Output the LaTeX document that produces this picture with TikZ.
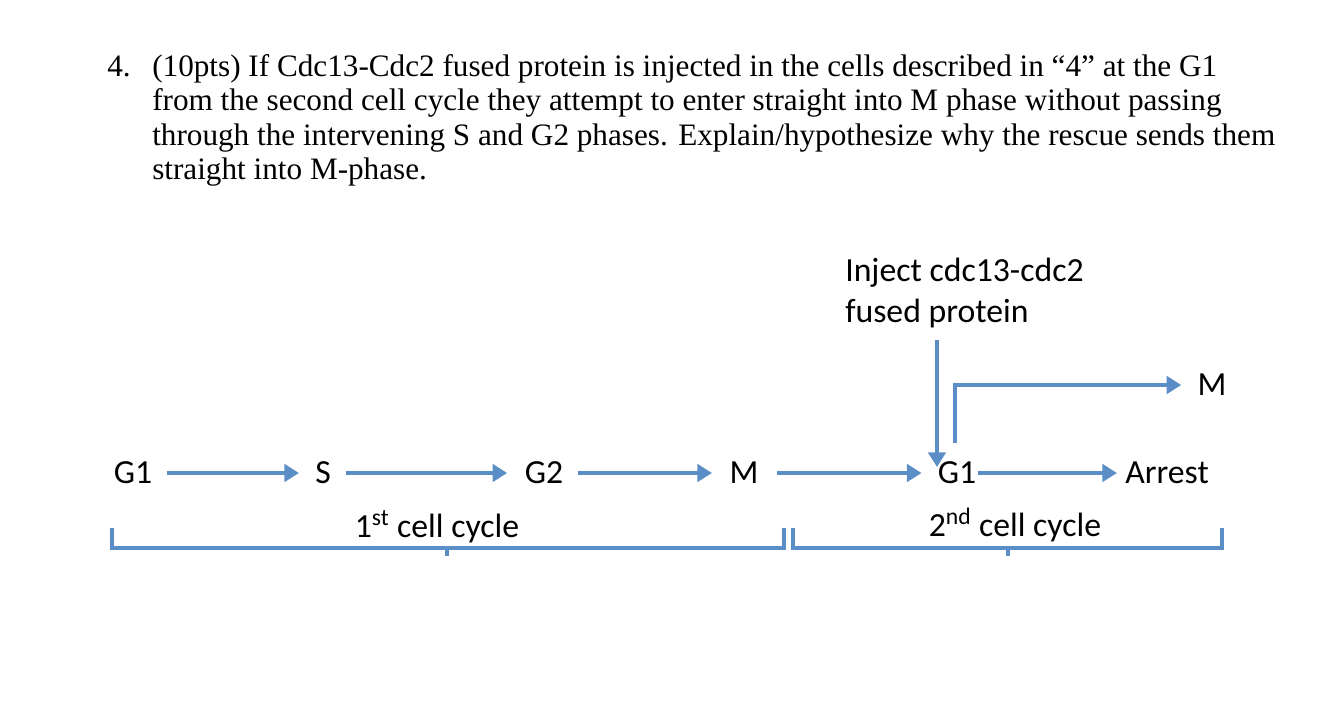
\documentclass[tikz,border=0pt]{standalone}
\usepackage{fontspec}
\setmainfont{Liberation Serif}
\newfontfamily\diag{Carlito}
\usetikzlibrary{arrows.meta}
\definecolor{cblue}{HTML}{5B8EC6}
\begin{document}
\begin{tikzpicture}[x=0.75pt,y=-0.75pt,
  flow/.style={draw=cblue,line width=3pt,-{Triangle[length=11pt,width=13pt]}},
  brk/.style={draw=cblue,line width=2.6pt},
  lab/.style={font=\diag\fontsize{25.3}{30.75}\selectfont,inner sep=0pt},
  qtext/.style={font=\fontsize{23.4}{25.5}\selectfont,inner sep=0pt,anchor=base west}]
\useasboundingbox[fill=white] (0,0) rectangle (1332,724);
% question
\node[qtext] (qnum) at (107,77) {4.};
\node[qtext] (ql1) at (152,77) {(10pts) If Cdc13-Cdc2 fused protein is injected in the cells described in “4” at the G1};
\node[qtext] (ql2) at (152,111) {from the second cell cycle they attempt to enter straight into M phase without passing};
\node[qtext] (ql3) at (152,145) {through the intervening S and G2 phases. Explain/hypothesize why the rescue sends them};
\node[qtext] (ql4) at (152,179) {straight into M-phase.};
% phase labels
\node[lab] (g1a) at (133,473) {G1};
\node[lab] (s) at (323,473) {S};
\node[lab] (g2) at (544,473) {G2};
\node[lab] (m1) at (744,473) {M};
\node[lab] (g1b) at (957,473) {G1};
\node[lab] (arrest) at (1167,473) {Arrest};
\node[lab] (m2) at (1212,385) {M};
\node[lab,align=left,anchor=north west] (inj) at (845,258) {Inject cdc13-cdc2\\fused protein};
% horizontal arrows
\draw[flow,shorten <=11pt,shorten >=12pt] (g1a) -- (s);
\draw[flow,shorten <=11pt,shorten >=13pt] (s) -- (g2);
\draw[flow,shorten <=11pt,shorten >=13pt] (g2) -- (m1);
\draw[flow,shorten <=14pt,shorten >=12pt] (m1) -- (g1b);
\draw[flow,shorten <=1pt,shorten >=6pt] (g1b) -- (arrest);
% injection arrow
\coordinate (injtop) at (937,340);
\coordinate (injend) at (937,467);
\draw[flow] (injtop) -- (injend);
% elbow arrow to M
\coordinate (elb) at (955,443);
\draw[flow,shorten >=12pt] (elb) |- (m2);
% brackets
\draw[brk] (112,528) -- (112,548) -- (784,548) -- (784,528);
\draw[brk] (447,548) -- (447,556);
\draw[brk] (793,528) -- (793,548) -- (1222,548) -- (1222,528);
\draw[brk] (1008,548) -- (1008,556);
\node[lab] (c1) at (437,527) {1\textsuperscript{st} cell cycle};
\node[lab] (c2) at (1015,525) {2\textsuperscript{nd} cell cycle};
\end{tikzpicture}
\end{document}
